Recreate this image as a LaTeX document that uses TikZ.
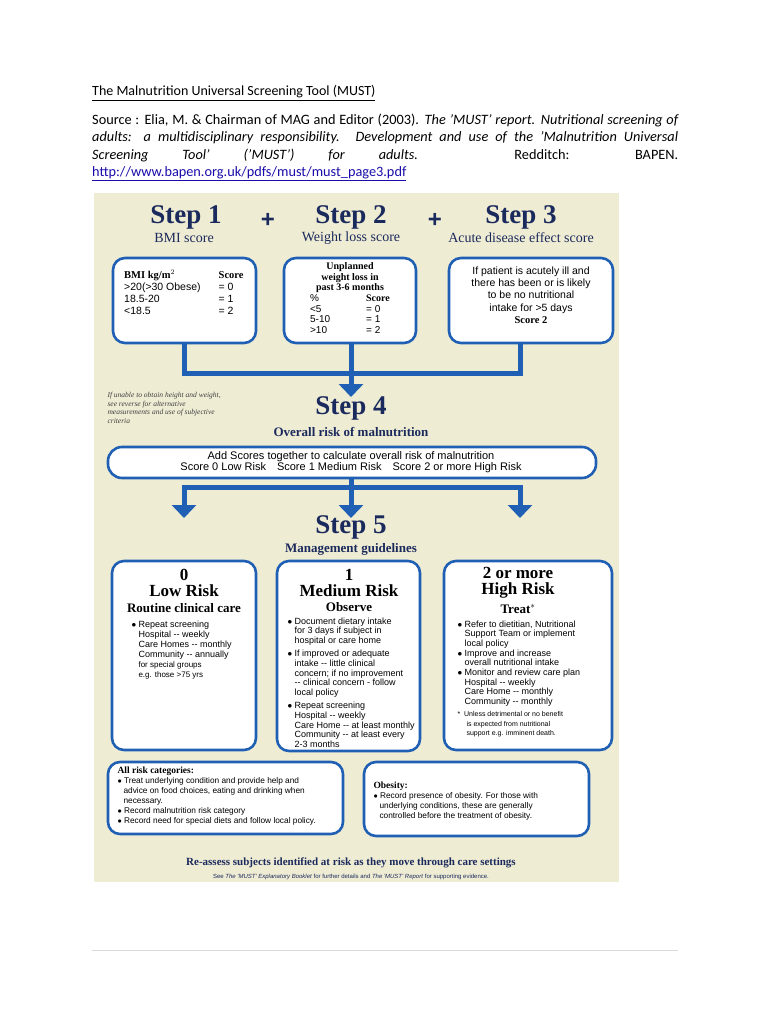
\documentclass[tikz,border=0pt]{standalone}
\usepackage{fontspec}
\setmainfont{Carlito}
\newfontfamily\hsans{Liberation Sans}
\newfontfamily\hserif{Liberation Serif}
\usetikzlibrary{positioning,arrows.meta}
\definecolor{navy}{HTML}{1B2A5C}
\definecolor{mblue}{HTML}{1F5FB4}
\definecolor{panel}{HTML}{EFECD4}
\definecolor{linkblue}{HTML}{1A0DAB}
\tikzset{
  stephead/.style={font=\hserif\bfseries\fontsize{27}{27}\selectfont, text=navy},
  sub/.style={font=\hserif\fontsize{14}{14}\selectfont, text=navy},
  box/.style={draw=mblue, line width=2.6pt, rounded corners=12pt, fill=white},
  body/.style={font=\hsans\fontsize{10.5}{12}\selectfont, align=left, anchor=north west},
  flow/.style={draw=mblue, line width=5pt},
  tip/.style={-{Triangle[length=13pt,width=24pt]}}
}
\begin{document}
\begin{tikzpicture}[x=1pt,y=-1pt]
  \useasboundingbox[fill=white] (0,0) rectangle (768,1024);
  % header of the page
  \node[anchor=west, inner sep=0pt, font=\fontsize{14}{15}\selectfont] (title) at (92,93)
    {\underline{The Malnutrition Universal Screening Tool (MUST)}};
  \node[anchor=north west, text width=586pt, align=justify, inner sep=0pt,
        font=\fontsize{14.3}{17.2}\selectfont] (src) at (92,114)
    {Source : Elia, M. \& Chairman of MAG and Editor (2003). \textit{The 'MUST' report. Nutritional screening of\linebreak adults: a multidisciplinary responsibility. Development and use of the 'Malnutrition Universal\linebreak Screening Tool' ('MUST') for adults.} Redditch: BAPEN.\linebreak
    \textcolor{linkblue}{\underline{http://www.bapen.org.uk/pdfs/must/must\_page3.pdf}}};
  \fill[panel] (94,193) rectangle (619,882);
  % step headings
  \node[stephead] (s1) at (186,217) {Step 1};
  \node[stephead] (s2) at (351,217) {Step 2};
  \node[stephead] (s3) at (521,217) {Step 3};
  \node[stephead, font=\hsans\bfseries\fontsize{24}{24}\selectfont] (p1) at (268,220) {+};
  \node[stephead, font=\hsans\bfseries\fontsize{24}{24}\selectfont] (p2) at (435,220) {+};
  \node[sub] (s1t) at (184,238) {BMI score};
  \node[sub] (s2t) at (351,238) {Weight loss score};
  \node[sub] (s3t) at (521,238) {Acute disease effect score};
  % score boxes
  \draw[box] (113,258) rectangle (256,343);
  \draw[box] (284,258) rectangle (416,343);
  \draw[box] (449,258) rectangle (613,343);
  \node[body, inner sep=0pt] (bmi) at (124,270) {\begin{tabular}{@{}l@{\hspace{18pt}}l@{}}
    \hserif\bfseries BMI kg/m$^2$ & \hserif\bfseries Score\\
    >20(>30 Obese) & = 0\\ 18.5-20 & = 1\\ <18.5 & = 2\end{tabular}};
  \node[body, anchor=north, inner sep=0pt, font=\hsans\fontsize{10}{10.6}\selectfont] (wl) at (350,262) {\begin{tabular}{@{}l@{\hspace{36pt}}l@{}}
    \multicolumn{2}{@{}c@{}}{\hserif\bfseries\begin{tabular}{@{}c@{}}Unplanned\\ weight loss in\\ past 3-6 months\end{tabular}}\\
    \% & \hserif\bfseries Score\\ <5 & = 0\\ 5-10 & = 1\\ >10 & = 2\end{tabular}};
  \node[body, anchor=north, align=center, font=\hsans\fontsize{10.5}{12.3}\selectfont] (ad) at (531,263)
    {If patient is acutely ill and\\there has been or is likely\\to be no nutritional\\intake for >5 days\\{\hserif\bfseries Score 2}};
  % joining the scores
  \coordinate (j1) at (184,373);
  \coordinate (j2) at (351,373);
  \coordinate (j3) at (520,373);
  \draw[flow] (184,343) -- (j1) -- (j3) -- (520,343);
  \draw[flow, tip] (351,343) -- (351,397);
  \node[anchor=north west, font=\hserif\itshape\fontsize{7.5}{8.5}\selectfont, align=left, text=black!75] (note) at (104,389)
    {If unable to obtain height and weight,\\see reverse for alternative\\measurements and use of subjective\\criteria};
  \node[stephead] (s4) at (351,408) {Step 4};
  \node[sub, font=\hserif\bfseries\fontsize{13}{13}\selectfont] (s4t) at (351,432) {Overall risk of malnutrition};
  \draw[box, rounded corners=14pt] (108,447) rectangle (596,478);
  \node[font=\hsans\fontsize{11}{11.5}\selectfont, align=center] (add) at (351,462)
    {Add Scores together to calculate overall risk of malnutrition\\Score 0 Low Risk\quad Score 1 Medium Risk\quad Score 2 or more High Risk};
  \coordinate (k1) at (184,487);
  \coordinate (k3) at (520,487);
  \draw[flow] (k1) -- (k3);
  \draw[flow, tip] (184,485) -- (184,518);
  \draw[flow, tip] (351,478) -- (351,518);
  \draw[flow, tip] (520,485) -- (520,518);
  \node[stephead] (s5) at (351,527) {Step 5};
  \node[sub, font=\hserif\bfseries\fontsize{13}{13}\selectfont] (s5t) at (351,549) {Management guidelines};
  % risk boxes
  \draw[box] (112,561) rectangle (256,750);
  \draw[box] (277,561) rectangle (420,751);
  \draw[box] (444,561) rectangle (612,750);
  \node[font=\hserif\bfseries\fontsize{17}{16}\selectfont, align=center] (low) at (184,583) {0\\Low Risk};
  \node[font=\hserif\bfseries\fontsize{13}{13}\selectfont] (lowt) at (184,608) {Routine clinical care};
  \node[body, font=\hsans\fontsize{9}{10}\selectfont] (lowb) at (128,617)
    {$\bullet$ Repeat screening\\\hspace{7pt}Hospital -- weekly\\\hspace{7pt}Care Homes -- monthly\\\hspace{7pt}Community -- annually\\\hspace{7pt}{\fontsize{8}{9}\selectfont for special groups}\\\hspace{7pt}{\fontsize{8}{9}\selectfont e.g. those >75 yrs}};
  \node[font=\hserif\bfseries\fontsize{17}{16}\selectfont, align=center] (med) at (349,583) {1\\Medium Risk};
  \node[font=\hserif\bfseries\fontsize{13}{13}\selectfont] (medt) at (349,607) {Observe};
  \node[body, font=\hsans\fontsize{9}{9.6}\selectfont] (medb) at (284,614)
    {$\bullet$ Document dietary intake\\\hspace{7pt}for 3 days if subject in\\\hspace{7pt}hospital or care home\\[4pt]
     $\bullet$ If improved or adequate\\\hspace{7pt}intake -- little clinical\\\hspace{7pt}concern; if no improvement\\\hspace{7pt}-- clinical concern - follow\\\hspace{7pt}local policy\\[4pt]
     $\bullet$ Repeat screening\\\hspace{7pt}Hospital -- weekly\\\hspace{7pt}Care Home -- at least monthly\\\hspace{7pt}Community -- at least every\\\hspace{7pt}2-3 months};
  \node[font=\hserif\bfseries\fontsize{17}{16}\selectfont, align=center] (high) at (518,583) {2 or more\\High Risk};
  \node[font=\hserif\bfseries\fontsize{13}{13}\selectfont] (hight) at (518,609) {Treat$^*$};
  \node[body, font=\hsans\fontsize{9}{9.7}\selectfont] (highb) at (454,617)
    {$\bullet$ Refer to dietitian, Nutritional\\\hspace{7pt}Support Team or implement\\\hspace{7pt}local policy\\
     $\bullet$ Improve and increase\\\hspace{7pt}overall nutritional intake\\
     $\bullet$ Monitor and review care plan\\\hspace{7pt}Hospital -- weekly\\\hspace{7pt}Care Home -- monthly\\\hspace{7pt}Community -- monthly\\[2pt]
     {\fontsize{7}{8}\selectfont * \ Unless detrimental or no benefit}\\{\fontsize{7}{8}\selectfont \hspace{9pt}is expected from nutritional}\\{\fontsize{7}{8}\selectfont \hspace{9pt}support e.g. imminent death.}};
  % general boxes
  \draw[box] (108,762) rectangle (343,834);
  \draw[box] (364,762) rectangle (589,836);
  \node[body, font=\hsans\fontsize{8.3}{10}\selectfont] (all) at (114,763)
    {{\hserif\bfseries\fontsize{9.5}{10}\selectfont All risk categories:}\\
     $\bullet$ Treat underlying condition and provide help and\\\hspace{6pt}advice on food choices, eating and drinking when\\\hspace{6pt}necessary.\\
     $\bullet$ Record malnutrition risk category\\$\bullet$ Record need for special diets and follow local policy.};
  \node[body, font=\hsans\fontsize{8.3}{10}\selectfont] (ob) at (370,778)
    {{\hserif\bfseries\fontsize{9.5}{10}\selectfont Obesity:}\\
     $\bullet$ Record presence of obesity. For those with\\\hspace{6pt}underlying conditions, these are generally\\\hspace{6pt}controlled before the treatment of obesity.};
  \node[font=\hserif\bfseries\fontsize{11}{11}\selectfont, text=navy] (re) at (351,863)
    {Re-assess subjects identified at risk as they move through care settings};
  \node[font=\hsans\fontsize{6}{6}\selectfont, text=navy] (see) at (351,877)
    {See \textit{The 'MUST' Explanatory Booklet} for further details and \textit{The 'MUST' Report} for supporting evidence.};
  \draw[black!15] (92,950) -- (678,950);
\end{tikzpicture}
\end{document}
